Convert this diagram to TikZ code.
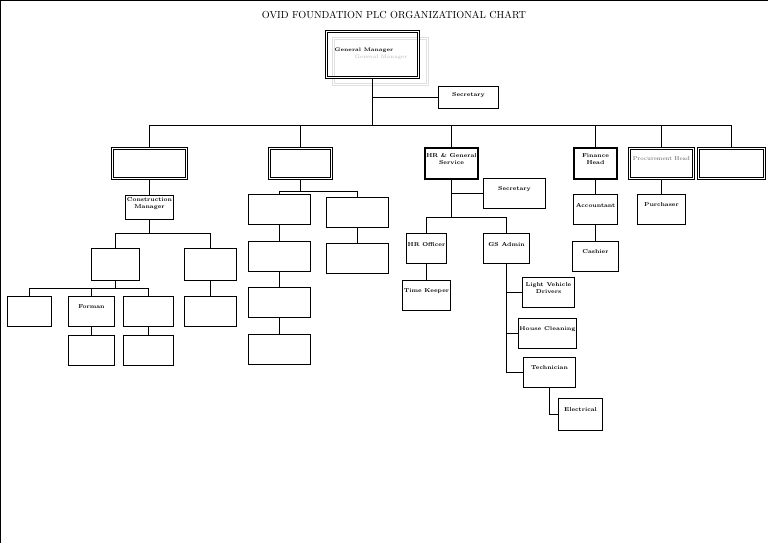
\documentclass[tikz,border=0pt]{standalone}
\usepackage{tikz}

\begin{document}
\begin{tikzpicture}[x=1pt,y=-1pt,
    orgbox/.style={draw, line width=1pt, inner sep=1pt, align=center, text depth=9pt,
      font=\fontsize{5.7}{6.7}\selectfont\bfseries},
    dblbox/.style={orgbox, double, double distance=1pt, line width=1pt},
    headbox/.style={orgbox, line width=2pt},
    link/.style={line width=1pt}]
  \useasboundingbox (0,0) rectangle (768,543);
  \draw[line width=2.5pt] (0,543) -- (0,0) -- (768,0);
  \node[font=\fontsize{10.2}{12}\selectfont] (title) at (394,15) {OVID FOUNDATION PLC ORGANIZATIONAL CHART};

  % general manager
  \draw[gray!25, line width=1pt, double, double distance=1pt] (333.5,38.5) rectangle (427.5,84.5);
  \node[draw, line width=1pt, double, double distance=1pt, minimum width=92pt, minimum height=46pt] (gm) at (372.5,54.5) {};
  \node[font=\fontsize{5.1}{6}\selectfont\bfseries] (gmlbl) at (364,50) {General Manager};
  \node[text=gray!60, font=\fontsize{5.1}{6}\selectfont] (gmlbl2) at (381,57) {General Manager};
  \node[orgbox, minimum width=60pt, minimum height=22pt, text depth=6pt] (sec) at (468.5,97.5) {Secretary};

  % second level
  \coordinate (topbus) at (372.5,125.5);
  \node[dblbox, minimum width=74pt, minimum height=30pt] (constr) at (149.5,163.5) {};
  \node[dblbox, minimum width=62pt, minimum height=30pt] (dept) at (300.5,163.5) {};
  \node[headbox, minimum width=47pt, minimum height=31pt] (hr) at (451.5,163.5) {HR \& General\\Service};
  \node[headbox, minimum width=43pt, minimum height=31pt] (fin) at (595.5,163.5) {Finance\\Head};
  \node[dblbox, minimum width=64pt, minimum height=30pt, font=\fontsize{5.7}{6.7}\selectfont, text=gray!70!black] (proc) at (661.5,163.5) {Procurement Head};
  \node[dblbox, minimum width=66pt, minimum height=30pt] (other) at (731.5,163.5) {};

  \draw[link] (gm.south) -- (topbus);
  \draw[link] (sec.west) -- (sec.west -| gm.south);
  \draw[link] (constr.north) |- (topbus);
  \draw[link] (other.north) |- (topbus);
  \foreach \n in {dept,hr,fin,proc}
    \draw[link] (\n.north) -- (\n.north |- topbus);

  % construction side
  \node[orgbox, minimum width=48pt, minimum height=24pt] (cm) at (149.5,207.5) {Construction\\Manager};
  \coordinate (cmbus) at (149.5,233.5);
  \node[orgbox, minimum width=48pt, minimum height=32pt] (sitea) at (115.5,264.5) {};
  \node[orgbox, minimum width=52pt, minimum height=32pt] (siteb) at (210.5,264.5) {};
  \coordinate (abus) at (115.5,288.5);
  \node[orgbox, minimum width=44pt, minimum height=30pt] (crewa) at (29.5,311.5) {};
  \node[orgbox, minimum width=46pt, minimum height=30pt] (forman) at (91.5,311.5) {Forman};
  \node[orgbox, minimum width=50pt, minimum height=30pt] (crewc) at (148.5,311.5) {};
  \node[orgbox, minimum width=52pt, minimum height=30pt] (crewb) at (210.5,311.5) {};
  \node[orgbox, minimum width=46pt, minimum height=30pt] (formana) at (91.5,350.5) {};
  \node[orgbox, minimum width=50pt, minimum height=30pt] (crewd) at (148.5,350.5) {};

  \draw[link] (constr) -- (cm);
  \draw[link] (cm.south) -- (cmbus);
  \draw[link] (sitea.north) |- (cmbus) -| (siteb.north);
  \draw[link] (sitea.south) -- (abus);
  \draw[link] (crewa.north) |- (abus) -| (crewc.north);
  \draw[link] (forman.north) -- (forman.north |- abus);
  \draw[link] (siteb) -- (crewb);
  \draw[link] (forman) -- (formana);
  \draw[link] (crewc) -- (crewd);

  % second department
  \coordinate (dbus) at (300.5,191.5);
  \node[orgbox, minimum width=62pt, minimum height=30pt] (da) at (279.5,209.5) {};
  \node[orgbox, minimum width=62pt, minimum height=30pt] (db) at (279.5,256.5) {};
  \node[orgbox, minimum width=62pt, minimum height=30pt] (dc) at (279.5,302.5) {};
  \node[orgbox, minimum width=62pt, minimum height=30pt] (dd) at (279.5,349.5) {};
  \node[orgbox, minimum width=62pt, minimum height=30pt] (ea) at (357.5,212.5) {};
  \node[orgbox, minimum width=62pt, minimum height=30pt] (eb) at (357.5,258.5) {};
  \draw[link] (dept.south) -- (dbus);
  \draw[link] (da.north) |- (dbus) -| (ea.north);
  \draw[link] (da) -- (db) -- (dc) -- (dd);
  \draw[link] (ea) -- (eb);

  % hr and general service
  \node[orgbox, minimum width=62pt, minimum height=30pt] (sech) at (514.5,193.5) {Secretary};
  \coordinate (hrbus) at (451.5,217.5);
  \node[orgbox, minimum width=40pt, minimum height=30pt] (hro) at (426.5,248.5) {HR Officer};
  \node[orgbox, minimum width=46pt, minimum height=30pt] (gsa) at (506.5,248.5) {GS Admin};
  \node[orgbox, minimum width=42pt, minimum height=30pt] (tk) at (426.5,295.5) {Time Keeper};
  \node[orgbox, minimum width=52pt, minimum height=30pt] (lvd) at (548.5,292.5) {Light Vehicle\\Drivers};
  \node[orgbox, minimum width=50pt, minimum height=30pt, font=\fontsize{5.4}{6.4}\selectfont\bfseries] (hc) at (547.5,333.5) {House Cleaning};
  \node[orgbox, minimum width=52pt, minimum height=30pt] (tech) at (549.5,372.5) {Technician};
  \node[orgbox, minimum width=44pt, minimum height=32pt] (elec) at (580.5,414.5) {Electrical};

  \draw[link] (hr.south) -- (hrbus);
  \draw[link] (sech.west) -- (sech.west -| hr.south);
  \draw[link] (hro.north) |- (hrbus) -| (gsa.north);
  \draw[link] (hro) -- (tk);
  \draw[link] (gsa.south) |- (tech.west);
  \draw[link] (lvd.west) -- (lvd.west -| gsa.south);
  \draw[link] (hc.west) -- (hc.west -| gsa.south);
  \draw[link] (tech.south) |- (elec.west);

  % finance and procurement
  \node[orgbox, minimum width=44pt, minimum height=30pt] (acc) at (595.5,209.5) {Accountant};
  \node[orgbox, minimum width=46pt, minimum height=30pt] (cash) at (595.5,256.5) {Cashier};
  \node[orgbox, minimum width=48pt, minimum height=30pt] (purch) at (661.5,209.5) {Purchaser};
  \draw[link] (fin) -- (acc) -- (cash);
  \draw[link] (proc) -- (purch);
\end{tikzpicture}
\end{document}
